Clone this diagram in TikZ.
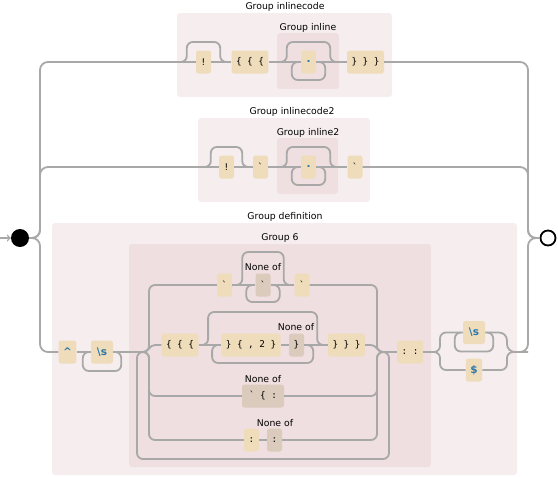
\documentclass[tikz,border=0pt]{standalone}
\usepackage{fontspec}
\setmainfont{DejaVu Sans}
\setmonofont{DejaVu Sans Mono}
\usetikzlibrary{arrows,calc}

\definecolor{railgrey}{HTML}{A8A8A8}
\definecolor{outergroup}{HTML}{F6EEEE}
\definecolor{innergroup}{HTML}{F0DFE0}
\definecolor{literal}{HTML}{EEDCBA}
\definecolor{noneof}{HTML}{DBCBBD}
\definecolor{escape}{HTML}{2D78AA}

% skip over nodes #1..#2 (gap #3, height #4) and loop under them (gap #3, depth #4)
\newcommand{\railskip}[4]{\draw[rail] ([xshift=-#3]#1.west) -- ++(6,0) |- ([xshift=#3-6pt,yshift=#4]#2.east) -- ([xshift=#3-6pt]#2.east) -- ([xshift=#3]#2.east);}
\newcommand{\railloop}[4]{\draw[rail] ([xshift=6pt-#3]#1.west) -- ([xshift=-#3]#1.west) -- ++(0,#4) -| ([xshift=#3]#2.east) -- ([xshift=#3-6pt]#2.east);}

\begin{document}
\begin{tikzpicture}[x=1pt,y=-1pt,
    rail/.style={draw=railgrey,line width=1.8pt,rounded corners=6pt},
    lit/.style={fill=literal,rounded corners=2.5pt,minimum height=23pt,minimum width=15pt,inner xsep=4.5pt,font=\ttfamily\fontsize{9.3}{10}\selectfont},
    none/.style={lit,fill=noneof},
    esc/.style={lit,text=escape,font=\bfseries\fontsize{10.5}{11}\selectfont},
    grplabel/.style={inner sep=0pt,font=\fontsize{9.3}{11}\selectfont}]
    \useasboundingbox (0,0) rectangle (558,477);

    % groups
    \fill[outergroup,rounded corners=3pt] (177,13) rectangle (392,97);
    \fill[innergroup,rounded corners=3pt] (277,33) rectangle (339,89);
    \fill[outergroup,rounded corners=3pt] (198,118) rectangle (370,202);
    \fill[innergroup,rounded corners=3pt] (277,138) rectangle (338,194);
    \fill[outergroup,rounded corners=3pt] (52,223) rectangle (517,475);
    \fill[innergroup,rounded corners=3pt] (129,244) rectangle (431,467);
    \node[grplabel] (lblcode) at (285,7) {Group inlinecode};
    \node[grplabel] (lblinline) at (308,28) {Group inline};
    \node[grplabel] (lblcode2) at (292,112) {Group inlinecode2};
    \node[grplabel] (lblinline2) at (308,133) {Group inline2};
    \node[grplabel] (lbldef) at (285,217) {Group definition};
    \node[grplabel] (lblsix) at (280,238) {Group 6};
    \node[grplabel] (lblnoneA) at (263,267) {None of};
    \node[grplabel] (lblnoneB) at (296,327) {None of};
    \node[grplabel] (lblnoneC) at (263,379) {None of};
    \node[grplabel] (lblnoneD) at (275,423) {None of};

    % start and end
    \coordinate (entry) at (0,238);
    \node[circle,fill=black,minimum size=18pt,inner sep=0pt] (start) at (20,238) {};
    \node[circle,draw=black,line width=1.8pt,fill=white,minimum size=15pt,inner sep=0pt] (finish) at (548,238) {};
    \draw[railgrey,line width=1.5pt,->] (entry) -- (start.west);

    % inlinecode
    \node[lit] (bang1) at (203.5,62) {!};
    \node[lit,minimum width=36pt] (open1) at (250,62) {\{ \{ \{};
    \node[esc] (dot1) at (308.5,62) {.};
    \node[lit,minimum width=37pt] (close1) at (365.5,62) {\} \} \}};

    % inlinecode2
    \node[lit] (bang2) at (226.5,167) {!};
    \node[lit] (tickc) at (260.5,167) {\textasciigrave};
    \node[esc] (dot2) at (308.5,167) {.};
    \node[lit] (tickd) at (355,167) {\textasciigrave};

    % definition
    \node[esc] (caret) at (67.5,352) {\textasciicircum};
    \node[esc,minimum width=22pt] (ws1) at (102,352) {\textbackslash s};
    \node[lit] (ticka) at (224.5,285) {\textasciigrave};
    \node[none] (nonetick) at (263,285) {\textasciigrave};
    \node[lit] (tickb) at (302,285) {\textasciigrave};
    \node[lit,minimum width=36pt] (open2) at (180,345) {\{ \{ \{};
    \node[lit,minimum width=58pt] (rep) at (251,345) {\} \{ , 2 \}};
    \node[none] (nonebrace) at (296.5,345) {\}};
    \node[lit,minimum width=37pt] (close2) at (346.5,345) {\} \} \}};
    \node[none,minimum width=42pt] (nonemix) at (263,396) {\textasciigrave\ \{ :};
    \node[lit] (colon1) at (251.5,440) {:};
    \node[none] (nonecolon) at (274.5,440) {:};
    \node[lit,minimum width=26pt] (dcolon) at (410,352) {: :};
    \node[esc,minimum width=22pt] (ws2) at (474,332.5) {\textbackslash s};
    \node[esc] (dollar) at (474,370) {\$};
    \coordinate (g6in) at (143,352);
    \coordinate (g6out) at (383,352);

    % rails
    \draw[rail,rounded corners=8pt] (start.east) -- (40,238) -- (40,62) -- (bang1.west);
    \draw[rail,rounded corners=8pt] (start.east) -- (40,238) -- (40,167) -- (bang2.west);
    \draw[rail,rounded corners=8pt] (start.east) -- (40,238) -- (40,352) -- (caret.west);
    \draw[rail,rounded corners=8pt] (close1.east) -- (528,62) -- (528,238) -- (finish.west);
    \draw[rail,rounded corners=8pt] (tickd.east) -- (528,167) -- (528,238) -- (finish.west);

    \draw[rail] (bang1.east) -- (open1.west);
    \draw[rail] (open1.east) -- (dot1.west);
    \draw[rail] (dot1.east) -- (close1.west);
    \railskip{bang1}{bang1}{15pt}{20pt}
    \railskip{dot1}{dot1}{20pt}{20pt}
    \railloop{dot1}{dot1}{9pt}{18}

    \draw[rail] (bang2.east) -- (tickc.west);
    \draw[rail] (tickc.east) -- (dot2.west);
    \draw[rail] (dot2.east) -- (tickd.west);
    \railskip{bang2}{bang2}{14pt}{20pt}
    \railskip{dot2}{dot2}{20pt}{20pt}
    \railloop{dot2}{dot2}{9pt}{18}

    \draw[rail] (caret.east) -- (ws1.west);
    \railloop{ws1}{ws1}{8pt}{19}
    \draw[rail] (ws1.east) -- (g6in);
    \draw[rail] (g6in) -- (137,352) -- (137,459) -- (389,459) -- (389,352) -- (g6out);

    \draw[rail] (g6in) -- (149,352) -- (149,285) -- (ticka.west);
    \draw[rail] (ticka.east) -- (nonetick.west);
    \draw[rail] (nonetick.east) -- (tickb.west);
    \draw[rail] (tickb.east) -- (377,285) -- (377,352) -- (g6out);
    \railskip{nonetick}{nonetick}{19pt}{33pt}
    \railloop{nonetick}{nonetick}{9pt}{17}

    \draw[rail,sharp corners] (g6in) .. controls (149,352) and (149,345) .. (155,345) -- (open2.west);
    \draw[rail] (open2.east) -- (rep.west);
    \draw[rail] (rep.east) -- (nonebrace.west);
    \draw[rail] (nonebrace.east) -- (close2.west);
    \draw[rail,sharp corners] (close2.east) -- (371,345) .. controls (377,345) and (377,352) .. (g6out);
    \railskip{rep}{nonebrace}{19pt}{33pt}
    \railloop{rep}{nonebrace}{9pt}{18}

    \draw[rail] (g6in) -- (149,352) -- (149,396) -- (nonemix.west);
    \draw[rail] (nonemix.east) -- (377,396) -- (377,352) -- (g6out);

    \draw[rail] (g6in) -- (149,352) -- (149,440) -- (colon1.west);
    \draw[rail] (colon1.east) -- (nonecolon.west);
    \draw[rail] (nonecolon.east) -- (377,440) -- (377,352) -- (g6out);

    \draw[rail] (g6out) -- (dcolon.west);
    \draw[rail] (dcolon.east) -- (440,352) -- (440,332.5) -- (ws2.west);
    \draw[rail] (dcolon.east) -- (440,352) -- (440,370) -- (dollar.west);
    \railloop{ws2}{ws2}{8pt}{19}
    \draw[rail] (dollar.east) -- (507,370) -- (507,352) -- (528,352);
    \draw[rail,rounded corners=8pt] (ws2.east) -- (507,332.5) -- (507,352) -- (528,352) -- (528,238) -- (finish.west);
\end{tikzpicture}
\end{document}
